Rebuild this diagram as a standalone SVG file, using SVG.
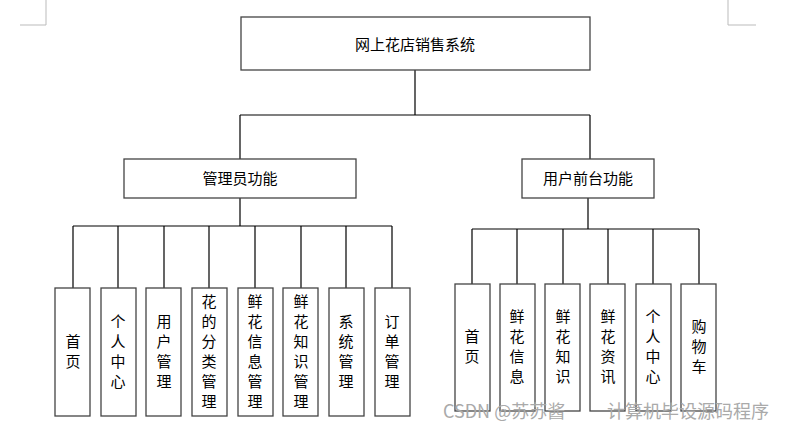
<svg xmlns="http://www.w3.org/2000/svg" width="802" height="430" viewBox="0 0 802 430">
<style>
.b{fill:#fff;stroke:#444;stroke-width:1.3}
.c{stroke:#000;stroke-width:1.2;fill:none}
text{font-family:"Noto Sans CJK SC","Liberation Sans",sans-serif;font-size:15px;fill:#000;text-anchor:middle}
.m{stroke:#bbb;fill:none}
.w{fill:#aaa;font-size:18px;text-anchor:start}
</style>
<rect width="802" height="430" fill="#fff"/>
<path class="m" d="M20 25H46V0M756 25H728V0"/>
<g id="connectors">
<path class="c" d="M415 70V115M240 115H590M240 115V159M590 115V159"/>
<path class="c" d="M240 198V226M73 226H392M73 226V288M118 226V288M164 226V288M209 226V288M255 226V288M301 226V288M346 226V288M392 226V288"/>
<path class="c" d="M588 198V229M472 229H699M472 229V284M517 229V284M563 229V284M608 229V284M653 229V284M699 229V284"/>
</g>
<g id="root"><rect class="b" x="241" y="17" width="349" height="53"/><text x="415" y="50">网上花店销售系统</text></g>
<g id="admin"><rect class="b" x="124" y="159" width="232" height="39"/><text x="240" y="184">管理员功能</text></g>
<g id="user"><rect class="b" x="522" y="159" width="132" height="39"/><text x="588" y="184">用户前台功能</text></g>
<g id="a1"><rect class="b" x="55" y="288" width="35" height="128"/><text x="73" y="347">首</text><text x="73" y="367">页</text></g>
<g id="a2"><rect class="b" x="101" y="288" width="35" height="128"/><text x="118" y="327">个</text><text x="118" y="347">人</text><text x="118" y="367">中</text><text x="118" y="387">心</text></g>
<g id="a3"><rect class="b" x="146" y="288" width="35" height="128"/><text x="164" y="327">用</text><text x="164" y="347">户</text><text x="164" y="367">管</text><text x="164" y="387">理</text></g>
<g id="a4"><rect class="b" x="192" y="288" width="35" height="128"/><text x="209" y="307">花</text><text x="209" y="327">的</text><text x="209" y="347">分</text><text x="209" y="367">类</text><text x="209" y="387">管</text><text x="209" y="407">理</text></g>
<g id="a5"><rect class="b" x="238" y="288" width="35" height="128"/><text x="255" y="307">鲜</text><text x="255" y="327">花</text><text x="255" y="347">信</text><text x="255" y="367">息</text><text x="255" y="387">管</text><text x="255" y="407">理</text></g>
<g id="a6"><rect class="b" x="283" y="288" width="35" height="128"/><text x="301" y="307">鲜</text><text x="301" y="327">花</text><text x="301" y="347">知</text><text x="301" y="367">识</text><text x="301" y="387">管</text><text x="301" y="407">理</text></g>
<g id="a7"><rect class="b" x="329" y="288" width="35" height="128"/><text x="346" y="327">系</text><text x="346" y="347">统</text><text x="346" y="367">管</text><text x="346" y="387">理</text></g>
<g id="a8"><rect class="b" x="375" y="288" width="35" height="128"/><text x="392" y="327">订</text><text x="392" y="347">单</text><text x="392" y="367">管</text><text x="392" y="387">理</text></g>
<g id="u1"><rect class="b" x="455" y="284" width="35" height="127"/><text x="472" y="342">首</text><text x="472" y="362">页</text></g>
<g id="u2"><rect class="b" x="500" y="284" width="35" height="127"/><text x="517" y="322">鲜</text><text x="517" y="342">花</text><text x="517" y="362">信</text><text x="517" y="382">息</text></g>
<g id="u3"><rect class="b" x="545" y="284" width="35" height="127"/><text x="563" y="322">鲜</text><text x="563" y="342">花</text><text x="563" y="362">知</text><text x="563" y="382">识</text></g>
<g id="u4"><rect class="b" x="590" y="284" width="35" height="127"/><text x="608" y="322">鲜</text><text x="608" y="342">花</text><text x="608" y="362">资</text><text x="608" y="382">讯</text></g>
<g id="u5"><rect class="b" x="636" y="284" width="35" height="127"/><text x="653" y="322">个</text><text x="653" y="342">人</text><text x="653" y="362">中</text><text x="653" y="382">心</text></g>
<g id="u6"><rect class="b" x="681" y="284" width="35" height="127"/><text x="699" y="332">购</text><text x="699" y="352">物</text><text x="699" y="372">车</text></g>
<text class="w" x="443" y="418">CSDN @苏苏酱</text>
<text class="w" x="607" y="418">计算机毕设源码程序</text>
</svg>
